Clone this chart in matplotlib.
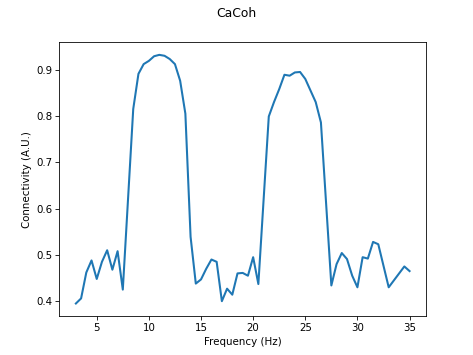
import matplotlib
matplotlib.use("Agg")
import matplotlib.pyplot as plt

# Frequencies (Hz) and connectivity values
freqs = [3.0, 3.5, 4.0, 4.5, 5.0, 5.5, 6.0, 6.5, 7.0, 7.5,
         8.5, 9.0, 9.5, 10.0, 10.5, 11.0, 11.5, 12.0, 12.5, 13.0,
         13.5, 14.0, 14.5, 15.0, 15.5, 16.0, 16.5, 17.0, 17.5, 18.0,
         18.5, 19.0, 19.5, 20.0, 20.5, 21.5, 22.0, 22.5, 23.0, 23.5,
         24.0, 24.5, 25.0, 25.5, 26.0, 26.5, 27.5, 28.0, 28.5, 29.0,
         29.5, 30.0, 30.5, 31.0, 31.5, 32.0, 33.0, 34.5, 35.0]
conn = [0.395, 0.406, 0.462, 0.488, 0.448, 0.485, 0.510, 0.468, 0.508, 0.425,
        0.815, 0.891, 0.912, 0.919, 0.929, 0.932, 0.930, 0.923, 0.912, 0.876,
        0.805, 0.539, 0.438, 0.447, 0.470, 0.490, 0.485, 0.400, 0.427, 0.414,
        0.460, 0.461, 0.455, 0.495, 0.437, 0.799, 0.830, 0.858, 0.889, 0.887,
        0.894, 0.895, 0.880, 0.855, 0.830, 0.786, 0.434, 0.480, 0.504, 0.491,
        0.455, 0.430, 0.495, 0.492, 0.528, 0.523, 0.430, 0.475, 0.465]

fig, ax = plt.subplots(figsize=(6.4, 4.8), dpi=74)
ax.plot(freqs, conn, linewidth=2)
ax.set_xlabel("Frequency (Hz)")
ax.set_ylabel("Connectivity (A.U.)")
fig.suptitle("CaCoh")

fig.savefig("out.png", dpi=74)
